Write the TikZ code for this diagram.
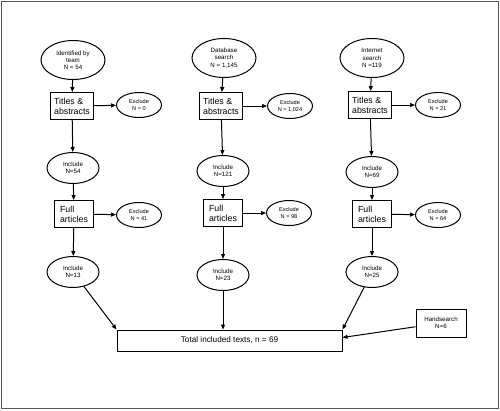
\documentclass[tikz,border=0pt]{standalone}
\usepackage{fontspec}
\setmainfont{Liberation Sans}
\usetikzlibrary{arrows.meta,shapes.geometric}

\begin{document}
\begin{tikzpicture}[x=1pt, y=-1pt, -{Triangle[length=5pt,width=4pt]}, line width=1pt,
   srcnode/.style={draw, ellipse, inner sep=0pt, minimum width=64pt, minimum height=39pt, align=center, font=\fontsize{6.2}{7.2}\selectfont},
   stagebox/.style={draw, rectangle, inner sep=0pt, minimum height=27pt, align=left, font=\fontsize{8.8}{10}\selectfont},
   exclnode/.style={draw, ellipse, inner sep=0pt, minimum width=45pt, minimum height=25pt, align=center, font=\fontsize{5.6}{6.8}\selectfont},
   inclnode/.style={draw, ellipse, inner sep=0pt, minimum width=52pt, minimum height=31pt, align=center, font=\fontsize{6.2}{7.4}\selectfont}]
   \useasboundingbox (0,0) rectangle (500,410);
   \draw[-, color=gray!70!black, line width=0.8pt] (1,1) rectangle (498,408);
   % sources
   \node[srcnode] (src1) at (73,60) {Identified by\\team\\N = 54};
   \node[srcnode] (src2) at (224,58) {Database\\search\\N = 1,145};
   \node[srcnode] (src3) at (372,58) {Internet\\search\\N =119};
   % titles and abstracts
   \node[stagebox, minimum width=43pt] (ta1) at (72,106) {Titles \&\\abstracts};
   \node[stagebox, minimum width=43pt] (ta2) at (221,106) {Titles \&\\abstracts};
   \node[stagebox, minimum width=43pt] (ta3) at (370,105) {Titles \&\\abstracts};
   \node[exclnode] (ex1) at (139,105) {Exclude\\N = 0};
   \node[exclnode] (ex2) at (290,106) {Exclude\\N = 1,024};
   \node[exclnode] (ex3) at (438,105) {Exclude\\N = 21};
   \node[inclnode] (in1) at (73,168) {Include\\N=54};
   \node[inclnode] (in2) at (223,171) {Include\\N=121};
   \node[inclnode] (in3) at (372,172) {Include\\N=69};
   % full articles
   \node[stagebox, minimum width=39pt] (fa1) at (74,214) {Full\\articles};
   \node[stagebox, minimum width=39pt] (fa2) at (223,213) {Full\\articles};
   \node[stagebox, minimum width=39pt] (fa3) at (372,214) {Full\\articles};
   \node[exclnode] (exf1) at (139,215) {Exclude\\N = 41};
   \node[exclnode] (exf2) at (289,213) {Exclude\\N = 98};
   \node[exclnode] (exf3) at (438,215) {Exclude\\N = 64};
   \node[inclnode] (fin1) at (73,272) {Include\\N=13};
   \node[inclnode] (fin2) at (223,275) {Include\\N=23};
   \node[inclnode] (fin3) at (372,272) {Include\\N=25};
   % totals
   \node[draw, rectangle, minimum width=225pt, minimum height=21pt, font=\fontsize{8.2}{10}\selectfont] (total) at (229.5,340.5) {Total included texts, n = 69};
   \node[draw, rectangle, inner sep=0pt, minimum width=50pt, minimum height=28pt, align=center, font=\fontsize{6.2}{7.4}\selectfont] (hand) at (441,323) {Handsearch\\N=6};
   \foreach \c in {1,2,3} {
     \draw (src\c) -- (ta\c);
     \draw (ta\c) -- (ex\c);
     \draw (ta\c) -- (in\c);
     \draw (in\c) -- (fa\c);
     \draw (fa\c) -- (exf\c);
     \draw (fa\c) -- (fin\c);
   }
   \draw (fin1) -- (total.north west);
   \draw (fin2) -- (fin2 |- total.north);
   \draw (fin3) -- (total.north east);
   \draw (hand) -- ([yshift=3pt]total.east);
\end{tikzpicture}
\end{document}
